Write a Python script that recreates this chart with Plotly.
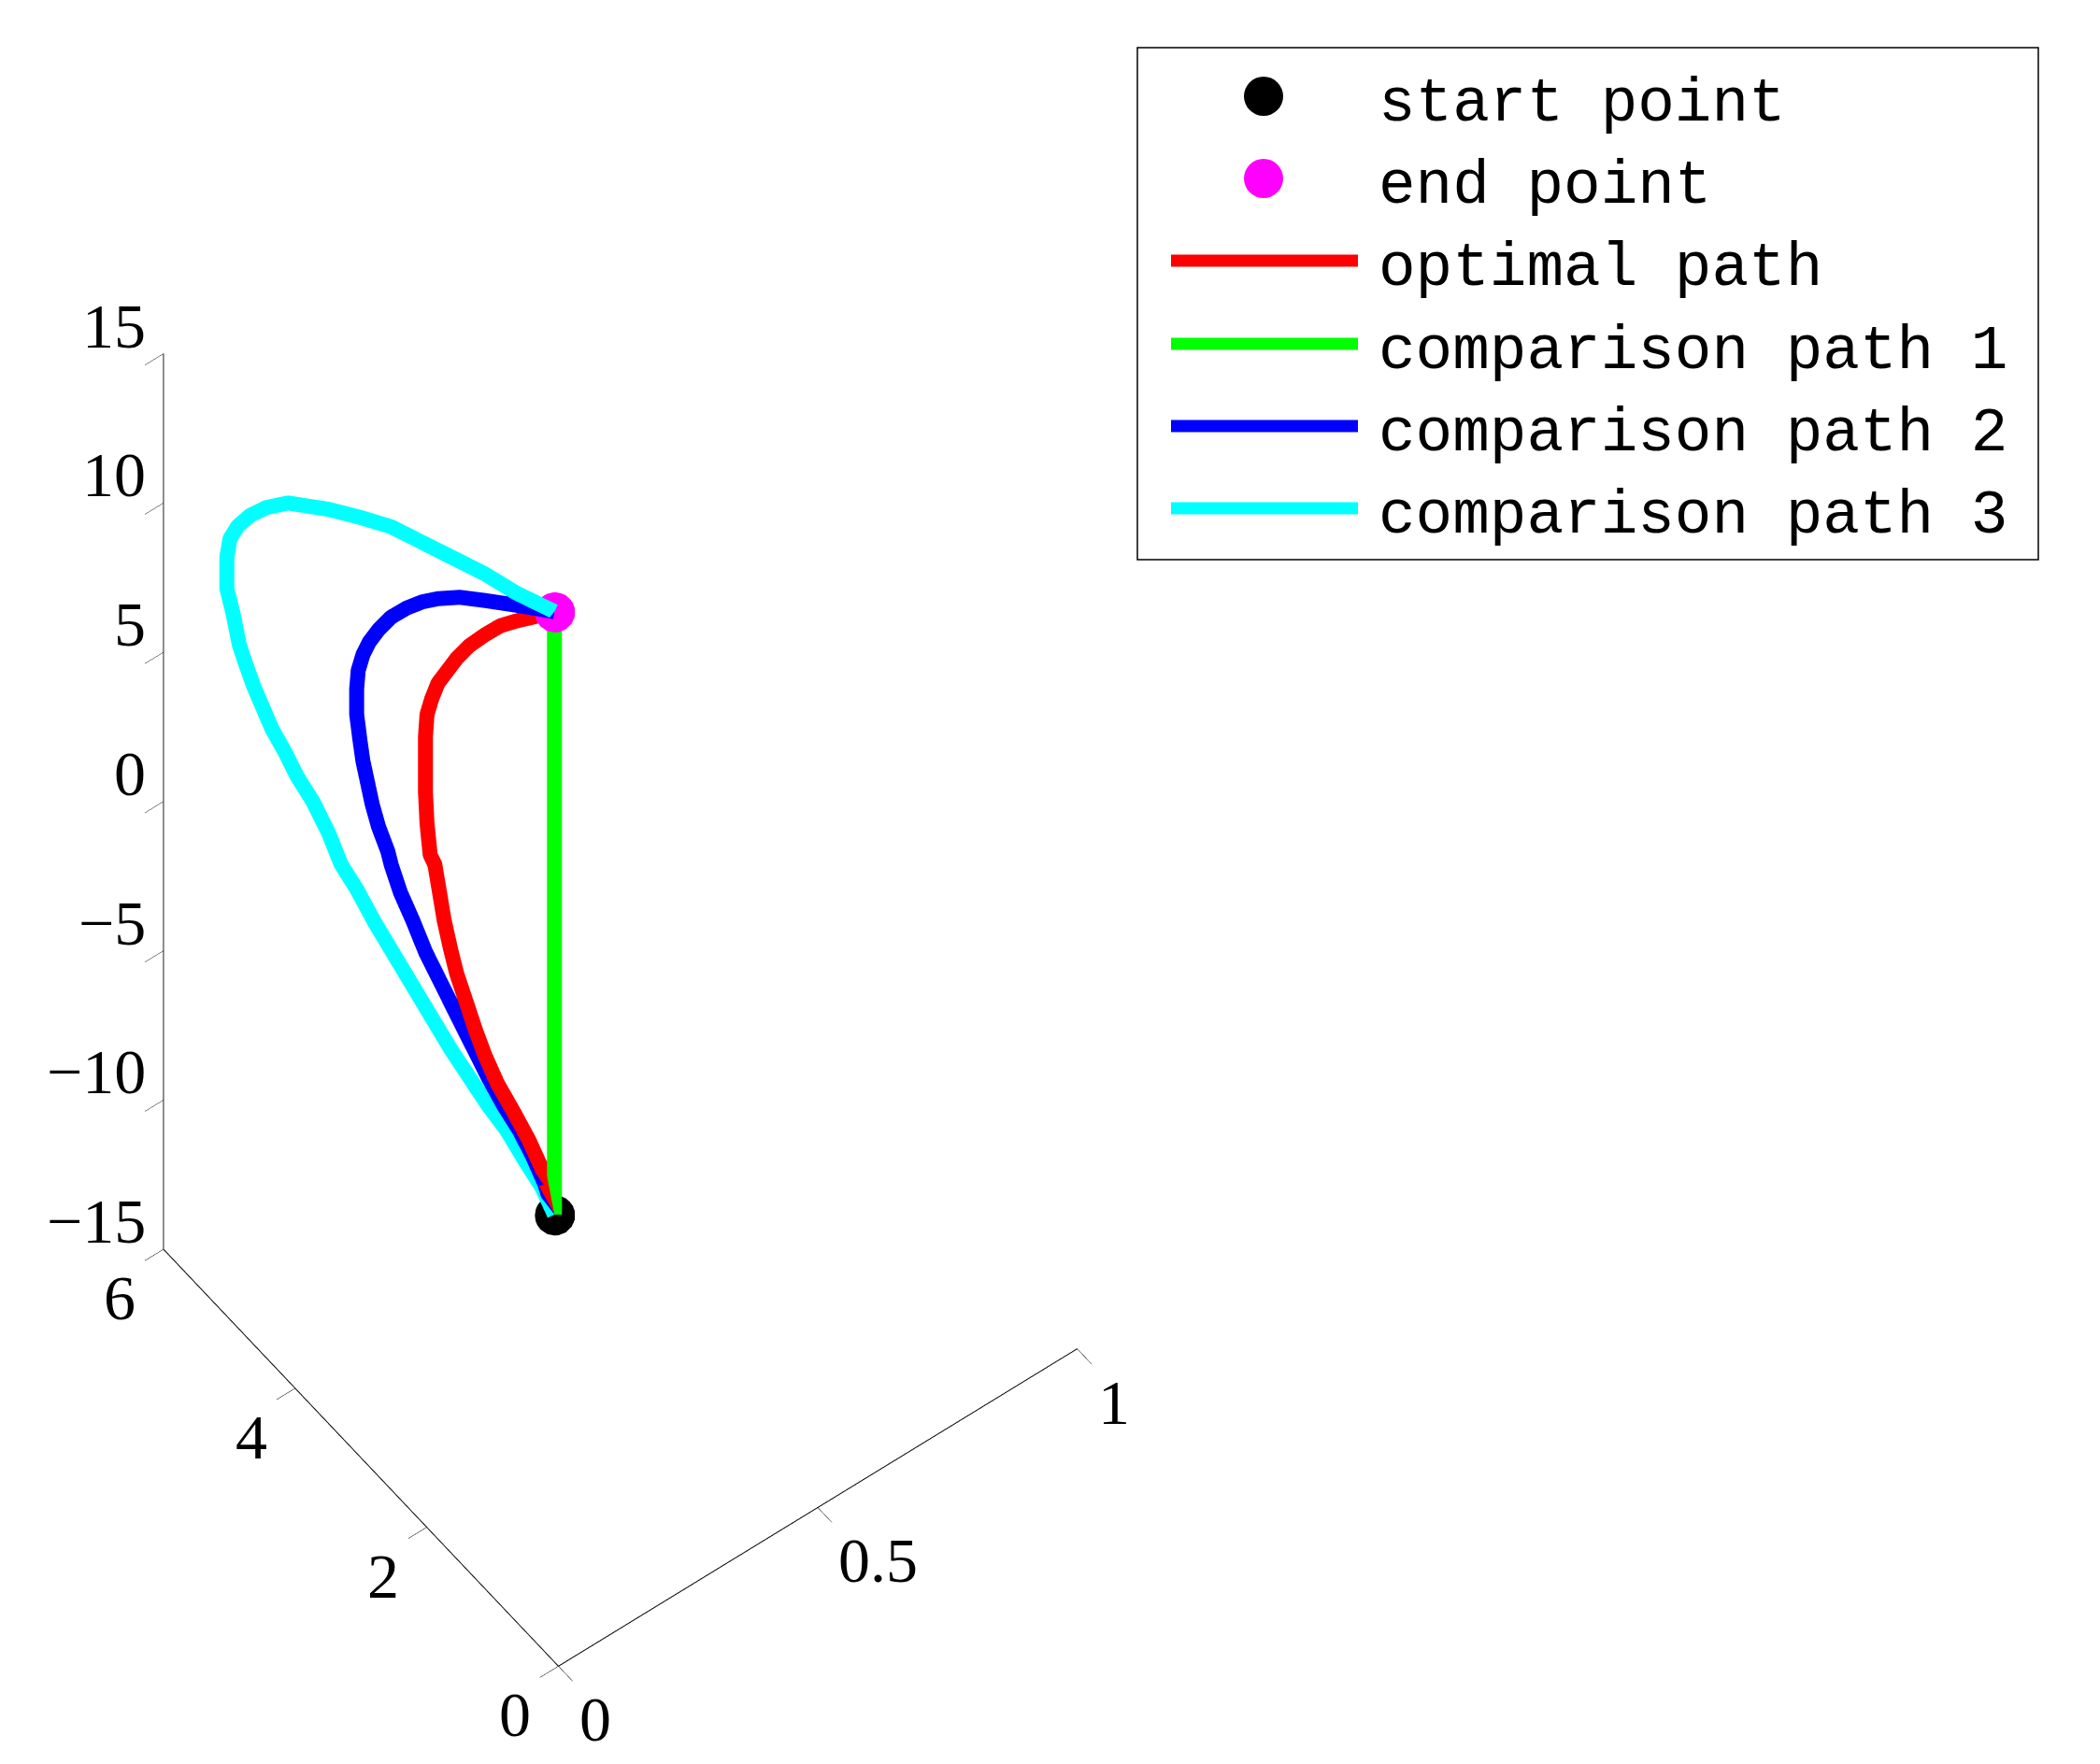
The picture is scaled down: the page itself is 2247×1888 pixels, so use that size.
import plotly.graph_objects as go

# ---------------- data ----------------
start_pt = [0.5, 4.0, -14.5]
end_pt = [0.5, 4.0, 5.7]

opt_x = [0.5, 0.4835, 0.467, 0.4475, 0.427, 0.411, 0.399, 0.387, 0.375, 0.367, 0.359, 0.353, 0.347, 0.341,
         0.337, 0.335, 0.335, 0.335, 0.337, 0.343, 0.351, 0.363, 0.375, 0.391, 0.411, 0.431, 0.451, 0.471, 0.5]
opt_y = [4.0, 4.066, 4.132, 4.21, 4.292, 4.356, 4.404, 4.452, 4.5, 4.532, 4.564, 4.588, 4.612, 4.636,
         4.652, 4.66, 4.66, 4.66, 4.652, 4.628, 4.596, 4.548, 4.5, 4.436, 4.356, 4.276, 4.196, 4.114, 4.0]
opt_z = [-14.5, -12.92, -11.95, -10.98, -10.01, -9.05, -8.19, -7.23, -6.27, -5.42, -4.47, -3.52, -2.57, -2.24,
         -1.19, -0.14, 0.90, 1.74, 2.47, 2.99, 3.50, 3.90, 4.30, 4.70, 5.04, 5.32, 5.45, 5.55, 5.7]

cmp1_x = [0.5, 0.5]
cmp1_y = [4.0, 4.0]
cmp1_z = [-14.5, 5.7]

cmp2_x = [0.5, 0.4875, 0.4715, 0.455, 0.435, 0.415, 0.395, 0.375, 0.355, 0.335, 0.319, 0.303, 0.291, 0.287,
          0.275, 0.267, 0.261, 0.255, 0.251, 0.247, 0.247, 0.249, 0.255, 0.263, 0.275, 0.291, 0.311, 0.331,
          0.351, 0.379, 0.411, 0.451, 0.5]
cmp2_y = [4.0, 4.05, 4.114, 4.18, 4.26, 4.34, 4.42, 4.5, 4.58, 4.66, 4.724, 4.788, 4.836, 4.852,
          4.9, 4.932, 4.956, 4.98, 4.996, 5.012, 5.012, 5.004, 4.98, 4.948, 4.9, 4.836, 4.756, 4.676,
          4.596, 4.484, 4.356, 4.196, 4.0]
cmp2_z = [-14.5, -13.45, -12.48, -11.62, -10.76, -9.78, -8.71, -7.64, -6.56, -5.48, -4.42, -3.45, -2.49, -2.06,
          -1.21, -0.46, 0.28, 1.02, 1.76, 2.60, 3.44, 4.06, 4.58, 4.99, 5.39, 5.79, 6.07, 6.25,
          6.33, 6.34, 6.19, 5.98, 5.7]

cmp3_x = [0.5, 0.4835, 0.463, 0.439, 0.415, 0.391, 0.367, 0.343, 0.319, 0.295, 0.271, 0.247, 0.227, 0.211,
          0.191, 0.171, 0.155, 0.139, 0.127, 0.115, 0.105, 0.097, 0.089, 0.081, 0.081, 0.085, 0.095, 0.111,
          0.131, 0.159, 0.211, 0.251, 0.291, 0.331, 0.371, 0.411, 0.451, 0.5]
cmp3_y = [4.0, 4.066, 4.148, 4.244, 4.34, 4.436, 4.532, 4.628, 4.724, 4.82, 4.916, 5.012, 5.092, 5.156,
          5.236, 5.316, 5.38, 5.444, 5.492, 5.54, 5.58, 5.612, 5.644, 5.676, 5.676, 5.66, 5.62, 5.556,
          5.476, 5.364, 5.156, 4.996, 4.836, 4.676, 4.516, 4.356, 4.196, 4.0]
cmp3_z = [-14.5, -13.55, -12.68, -11.60, -10.73, -9.75, -8.77, -7.69, -6.61, -5.53, -4.45, -3.26, -2.40, -1.33,
          -0.25, 0.61, 1.47, 2.23, 2.98, 3.73, 4.48, 5.12, 6.17, 7.03, 8.07, 8.69, 9.10, 9.44,
          9.67, 9.79, 9.51, 9.19, 8.82, 8.24, 7.66, 7.08, 6.39, 5.7]

x_range = [0, 1]
y_range = [0, 6]
z_range = [-15, 15]
x_ticks = [0, 0.5, 1]
x_ticktext = ["0", "0.5", "1"]
y_ticks = [0, 2, 4, 6]
y_ticktext = ["0", "2", "4", "6"]
z_ticks = [-15, -10, -5, 0, 5, 10, 15]
z_ticktext = ["\u221215", "\u221210", "\u22125", "0", "5", "10", "15"]

legend_labels = ["start point", "end point", "optimal path",
                 "comparison path 1", "comparison path 2", "comparison path 3"]
legend_colors = ["#000000", "#ff00ff", "#ff0000", "#00ff00", "#0000ff", "#00ffff"]

# ---------------- figure ----------------
W, H = 2247, 1888
LW = 32

fig = go.Figure()
fig.add_trace(go.Scatter3d(x=cmp3_x, y=cmp3_y, z=cmp3_z, mode="lines",
                           line=dict(color=legend_colors[5], width=LW), name=legend_labels[5]))
fig.add_trace(go.Scatter3d(x=cmp2_x, y=cmp2_y, z=cmp2_z, mode="lines",
                           line=dict(color=legend_colors[4], width=LW), name=legend_labels[4]))
fig.add_trace(go.Scatter3d(x=opt_x, y=opt_y, z=opt_z, mode="lines",
                           line=dict(color=legend_colors[2], width=LW), name=legend_labels[2]))
fig.add_trace(go.Scatter3d(x=cmp1_x, y=cmp1_y, z=cmp1_z, mode="lines",
                           line=dict(color=legend_colors[3], width=LW), name=legend_labels[3]))
fig.add_trace(go.Scatter3d(x=[start_pt[0]], y=[start_pt[1]], z=[start_pt[2]], mode="markers",
                           marker=dict(color=legend_colors[0], size=25, symbol="circle",
                                       line=dict(width=0)), name=legend_labels[0]))
fig.add_trace(go.Scatter3d(x=[end_pt[0]], y=[end_pt[1]], z=[end_pt[2]], mode="markers",
                           marker=dict(color=legend_colors[1], size=25, symbol="circle",
                                       line=dict(width=0)), name=legend_labels[1]))

axis_common = dict(showbackground=False, showgrid=False, zeroline=False, showline=True,
                   linecolor="black", linewidth=2, ticks="outside", ticklen=25, tickwidth=1,
                   tickcolor="black", showspikes=False, title=dict(text=""), showticklabels=False)

# tick labels placed at the tick positions of each axis edge (MATLAB-like placement)
lab_font = dict(family="Liberation Serif", size=68, color="black")
scene_ann = []
for v, t in zip(z_ticks, z_ticktext):   # z axis drawn on edge x=min, y=max
    scene_ann.append(dict(x=x_range[0], y=y_range[1], z=v, text=t, showarrow=False,
                          xanchor="right", yanchor="middle", xshift=-17, yshift=30, font=lab_font))
for v, t in zip(y_ticks, y_ticktext):   # y axis drawn on edge x=min, z=min
    scene_ann.append(dict(x=x_range[0], y=v, z=z_range[0], text=t, showarrow=False,
                          xanchor="center", yanchor="middle", xshift=-47, yshift=-52, font=lab_font))
for v, t in zip(x_ticks, x_ticktext):   # x axis drawn on edge y=min, z=min
    scene_ann.append(dict(x=v, y=y_range[0], z=z_range[0], text=t, showarrow=False,
                          xanchor="left", yanchor="middle", xshift=20, yshift=-57, font=lab_font))

# camera (orthographic view direction)
d = 2.62
dirv = (-0.3603, -0.4733, 0.8039)
cen = (-0.0057, -0.0394, -0.0258)
ASP = 0.739

fig.update_layout(
    width=W, height=H, margin=dict(l=0, r=0, t=0, b=0),
    paper_bgcolor="white", showlegend=False,
    scene=dict(
        domain=dict(x=[0.0, 0.6], y=[0.0, 1.0]),
        xaxis=dict(range=x_range, tickvals=x_ticks, **axis_common),
        yaxis=dict(range=y_range, tickvals=y_ticks, **axis_common),
        zaxis=dict(range=z_range, tickvals=z_ticks, **axis_common),
        aspectmode="manual", aspectratio=dict(x=ASP, y=ASP, z=2.31 * ASP),
        camera=dict(eye=dict(x=cen[0] + dirv[0] * d, y=cen[1] + dirv[1] * d, z=cen[2] + dirv[2] * d),
                    center=dict(x=cen[0], y=cen[1], z=cen[2]), up=dict(x=0, y=0, z=1),
                    projection=dict(type="orthographic")),
        bgcolor="white",
        annotations=scene_ann,
    ),
)

# ---------------- legend (drawn in paper coordinates) ----------------
def px(xp):
    return xp / W

def py(yp):
    return 1 - yp / H

fig.add_shape(type="rect", xref="paper", yref="paper", x0=px(1209), x1=px(2173), y0=py(591), y1=py(43),
              line=dict(color="black", width=1.5), fillcolor="white")
rows = [95, 183, 271, 360, 448, 536]
for i, (lab, col) in enumerate(zip(legend_labels, legend_colors)):
    yy = rows[i]
    if i < 2:
        r = 21
        fig.add_shape(type="circle", xref="paper", yref="paper", x0=px(1344 - r), x1=px(1344 + r),
                      y0=py(yy + r), y1=py(yy - r), fillcolor=col, line=dict(color=col, width=0))
    else:
        fig.add_shape(type="line", xref="paper", yref="paper", x0=px(1245), x1=px(1445),
                      y0=py(yy), y1=py(yy), line=dict(color=col, width=13))
    fig.add_annotation(x=px(1465), y=py(yy + 8), xref="paper", yref="paper", text=lab, showarrow=False,
                       xanchor="left", yanchor="middle",
                       font=dict(family="Liberation Mono", size=66, color="black"))

fig.write_html("out.html", config={"displayModeBar": False})
